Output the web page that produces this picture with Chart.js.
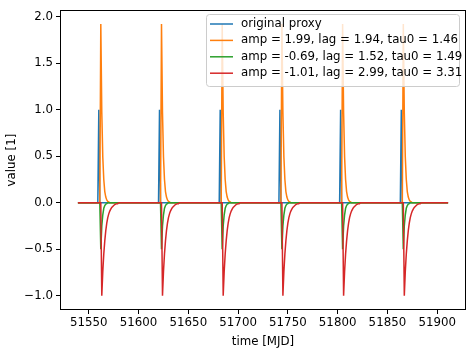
<!DOCTYPE html>
<html>
<head>
<meta charset="utf-8">
<script src="https://cdn.jsdelivr.net/npm/chart.js@4.4.1/dist/chart.umd.min.js"></script>
<style>
  html, body { margin: 0; padding: 0; background: #fff; }
  canvas { display: block; }
</style>
</head>
<body>
<canvas id="proxyChart" width="474" height="353"></canvas>
<script>
        // event times of the proxy pulses [MJD]
        const eventTimes = [51560, 51621, 51682, 51742, 51803, 51864];
        const startTime = 51539;
        const endTime = 51911;

        // day offsets around each event, and the pulse shapes
        const dayOffsets = [-1, 0, 1, 2, 3, 4, 5, 6, 7, 8, 9, 10, 11, 12, 13, 14, 15, 16, 17, 18, 19, 20];
        const proxyPulse = [0, 1, 0, 0, 0, 0, 0, 0, 0, 0, 0, 0, 0, 0, 0, 0, 0, 0, 0, 0, 0, 0];
        const orangePulse = [0, 0, 0, 1.92, 0.97, 0.49, 0.25, 0.12, 0.06, 0.03, 0.015, 0.01, 0, 0, 0, 0, 0, 0, 0, 0, 0, 0];
        const greenPulse = [0, 0, 0, -0.50, -0.25, -0.13, -0.06, -0.03, -0.015, -0.01, 0, 0, 0, 0, 0, 0, 0, 0, 0, 0, 0, 0];
        const redPulse = [0, 0, 0, 0, -1.00, -0.74, -0.55, -0.41, -0.30, -0.22, -0.16, -0.12, -0.09, -0.07, -0.05, -0.04, -0.03, -0.02, -0.015, -0.01, -0.01, 0];

        const seriesLabels = [
            'original proxy',
            'amp = 1.99, lag = 1.94, tau0 = 1.46',
            'amp = -0.69, lag = 1.52, tau0 = 1.49',
            'amp = -1.01, lag = 2.99, tau0 = 3.31'
        ];
        const seriesColors = ['#1f77b4', '#ff7f0e', '#2ca02c', '#d62728'];

        const xTicks = [51550, 51600, 51650, 51700, 51750, 51800, 51850, 51900];
        const yTicks = [-1.0, -0.5, 0.0, 0.5, 1.0, 1.5, 2.0];

        function buildSeries(pulse) {
            const pts = [{ x: startTime, y: 0 }];
            eventTimes.forEach(t => {
                dayOffsets.forEach((d, i) => pts.push({ x: t + d, y: pulse[i] }));
            });
            pts.push({ x: endTime, y: 0 });
            return pts;
        }

        const pulses = [proxyPulse, orangePulse, greenPulse, redPulse];

        const FONT = 'DejaVu Sans';
        const FSIZE = 11.8;

        // matplotlib style frame + legend box
        const frameAndLegend = {
            id: 'frameAndLegend',
            afterDraw(chart) {
                const ctx = chart.ctx;
                const a = chart.chartArea;
                ctx.save();
                ctx.strokeStyle = '#000';
                ctx.lineWidth = 1;
                ctx.strokeRect(Math.round(a.left) + 0.5, Math.round(a.top) + 0.5,
                    Math.round(a.right - a.left) - 1, Math.round(a.bottom - a.top) - 1);

                // legend
                const bx = 206.5, by = 14.5, bw = 253, bh = 72, r = 3;
                ctx.beginPath();
                ctx.moveTo(bx + r, by);
                ctx.arcTo(bx + bw, by, bx + bw, by + bh, r);
                ctx.arcTo(bx + bw, by + bh, bx, by + bh, r);
                ctx.arcTo(bx, by + bh, bx, by, r);
                ctx.arcTo(bx, by, bx + bw, by, r);
                ctx.closePath();
                ctx.fillStyle = 'rgba(255,255,255,0.8)';
                ctx.fill();
                ctx.strokeStyle = '#cccccc';
                ctx.stroke();

                ctx.font = FSIZE + 'px "' + FONT + '"';
                ctx.textBaseline = 'middle';
                ctx.textAlign = 'left';
                seriesLabels.forEach((lab, i) => {
                    const y = 24 + i * 16.4;
                    ctx.strokeStyle = seriesColors[i];
                    ctx.lineWidth = 1.5;
                    ctx.beginPath();
                    ctx.moveTo(210, y);
                    ctx.lineTo(233, y);
                    ctx.stroke();
                    ctx.fillStyle = '#000';
                    ctx.fillText(lab, 241, y);
                });
                ctx.restore();
            }
        };

        const proxyCtx = document.getElementById('proxyChart').getContext('2d');
        new Chart(proxyCtx, {
            type: 'line',
            data: {
                datasets: seriesLabels.map((lab, i) => ({
                    label: lab,
                    data: buildSeries(pulses[i]),
                    borderColor: seriesColors[i],
                    backgroundColor: seriesColors[i],
                    borderWidth: 1.5,
                    pointRadius: 0,
                    tension: 0,
                    fill: false,
                    order: 4 - i
                }))
            },
            options: {
                responsive: false,
                animation: false,
                layout: { padding: { top: 8, right: 8, left: 0, bottom: 0 } },
                plugins: {
                    legend: { display: false },
                    tooltip: { enabled: false }
                },
                scales: {
                    x: {
                        type: 'linear',
                        min: 51521,
                        max: 51929,
                        afterFit: s => { s.height = 43; },
                        afterBuildTicks: s => { s.ticks = xTicks.map(v => ({ value: v })); },
                        grid: { drawOnChartArea: false, drawTicks: true, tickLength: 4, color: '#000' },
                        border: { display: false },
                        ticks: {
                            color: '#000',
                            padding: 2,
                            maxRotation: 0,
                            autoSkip: false,
                            font: { family: FONT, size: FSIZE },
                            callback: v => String(v)
                        },
                        title: {
                            display: true,
                            text: 'time [MJD]',
                            color: '#000',
                            font: { family: FONT, size: FSIZE },
                            padding: { top: 0, bottom: 4 }
                        }
                    },
                    y: {
                        min: -1.153,
                        max: 2.07,
                        afterFit: s => { s.width = 60; },
                        afterBuildTicks: s => { s.ticks = yTicks.map(v => ({ value: v })); },
                        grid: { drawOnChartArea: false, drawTicks: true, tickLength: 4, color: '#000' },
                        border: { display: false },
                        ticks: {
                            color: '#000',
                            padding: 3,
                            font: { family: FONT, size: FSIZE },
                            callback: v => v.toFixed(1).replace('-', '\u2212')
                        },
                        title: {
                            display: true,
                            text: 'value [1]',
                            color: '#000',
                            font: { family: FONT, size: FSIZE },
                            padding: { top: 5, bottom: 0 }
                        }
                    }
                }
            },
            plugins: [frameAndLegend]
        });
</script>
</body>
</html>
